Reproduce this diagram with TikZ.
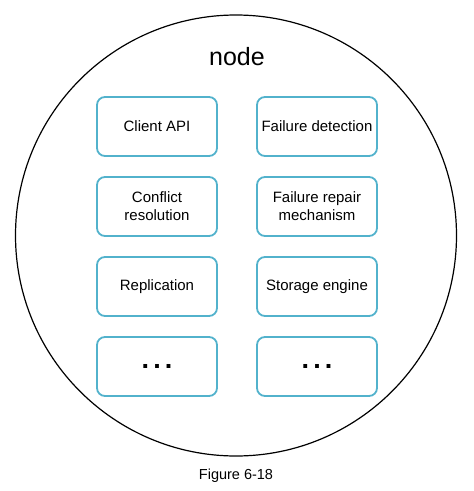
\documentclass[tikz,border=0pt]{standalone}
\usepackage{fontspec}
\setmainfont{Liberation Sans}
\definecolor{boxblue}{HTML}{52B2CC}
\begin{document}
\begin{tikzpicture}[x=1pt,y=-1pt,
  comp/.style={draw=boxblue,line width=1.8pt,rounded corners=8pt,minimum width=120pt,minimum height=59pt,align=center,font=\fontsize{15}{18}\selectfont,inner sep=0pt},
  dots/.style={font=\fontsize{27}{30}\selectfont\bfseries}]
\useasboundingbox (0,0) rectangle (474,491);
\node[draw=black,line width=1.2pt,circle,minimum size=441pt,inner sep=0pt] (outer) at (236,235.5) {};
\node[font=\fontsize{25}{30}\selectfont] (title) at (237,57) {node};
\node[comp] (api) at (157,126.5) {Client API};
\node[comp] (fd) at (317,126.5) {Failure detection};
\node[comp] (cr) at (157,206.5) {Conflict\\resolution};
\node[comp] (frm) at (317,206.5) {Failure repair\\mechanism};
\node[comp] (rep) at (157,286.5) {Replication};
\node[comp] (se) at (317,286.5) {Storage engine};
\node[comp,dots] (e1) at (157,366.5) {.\kern4pt.\kern4pt.};
\node[comp,dots] (e2) at (317,366.5) {.\kern4pt.\kern4pt.};
\node[font=\fontsize{14.5}{17}\selectfont] (cap) at (236,476) {Figure 6-18};
\end{tikzpicture}
\end{document}
